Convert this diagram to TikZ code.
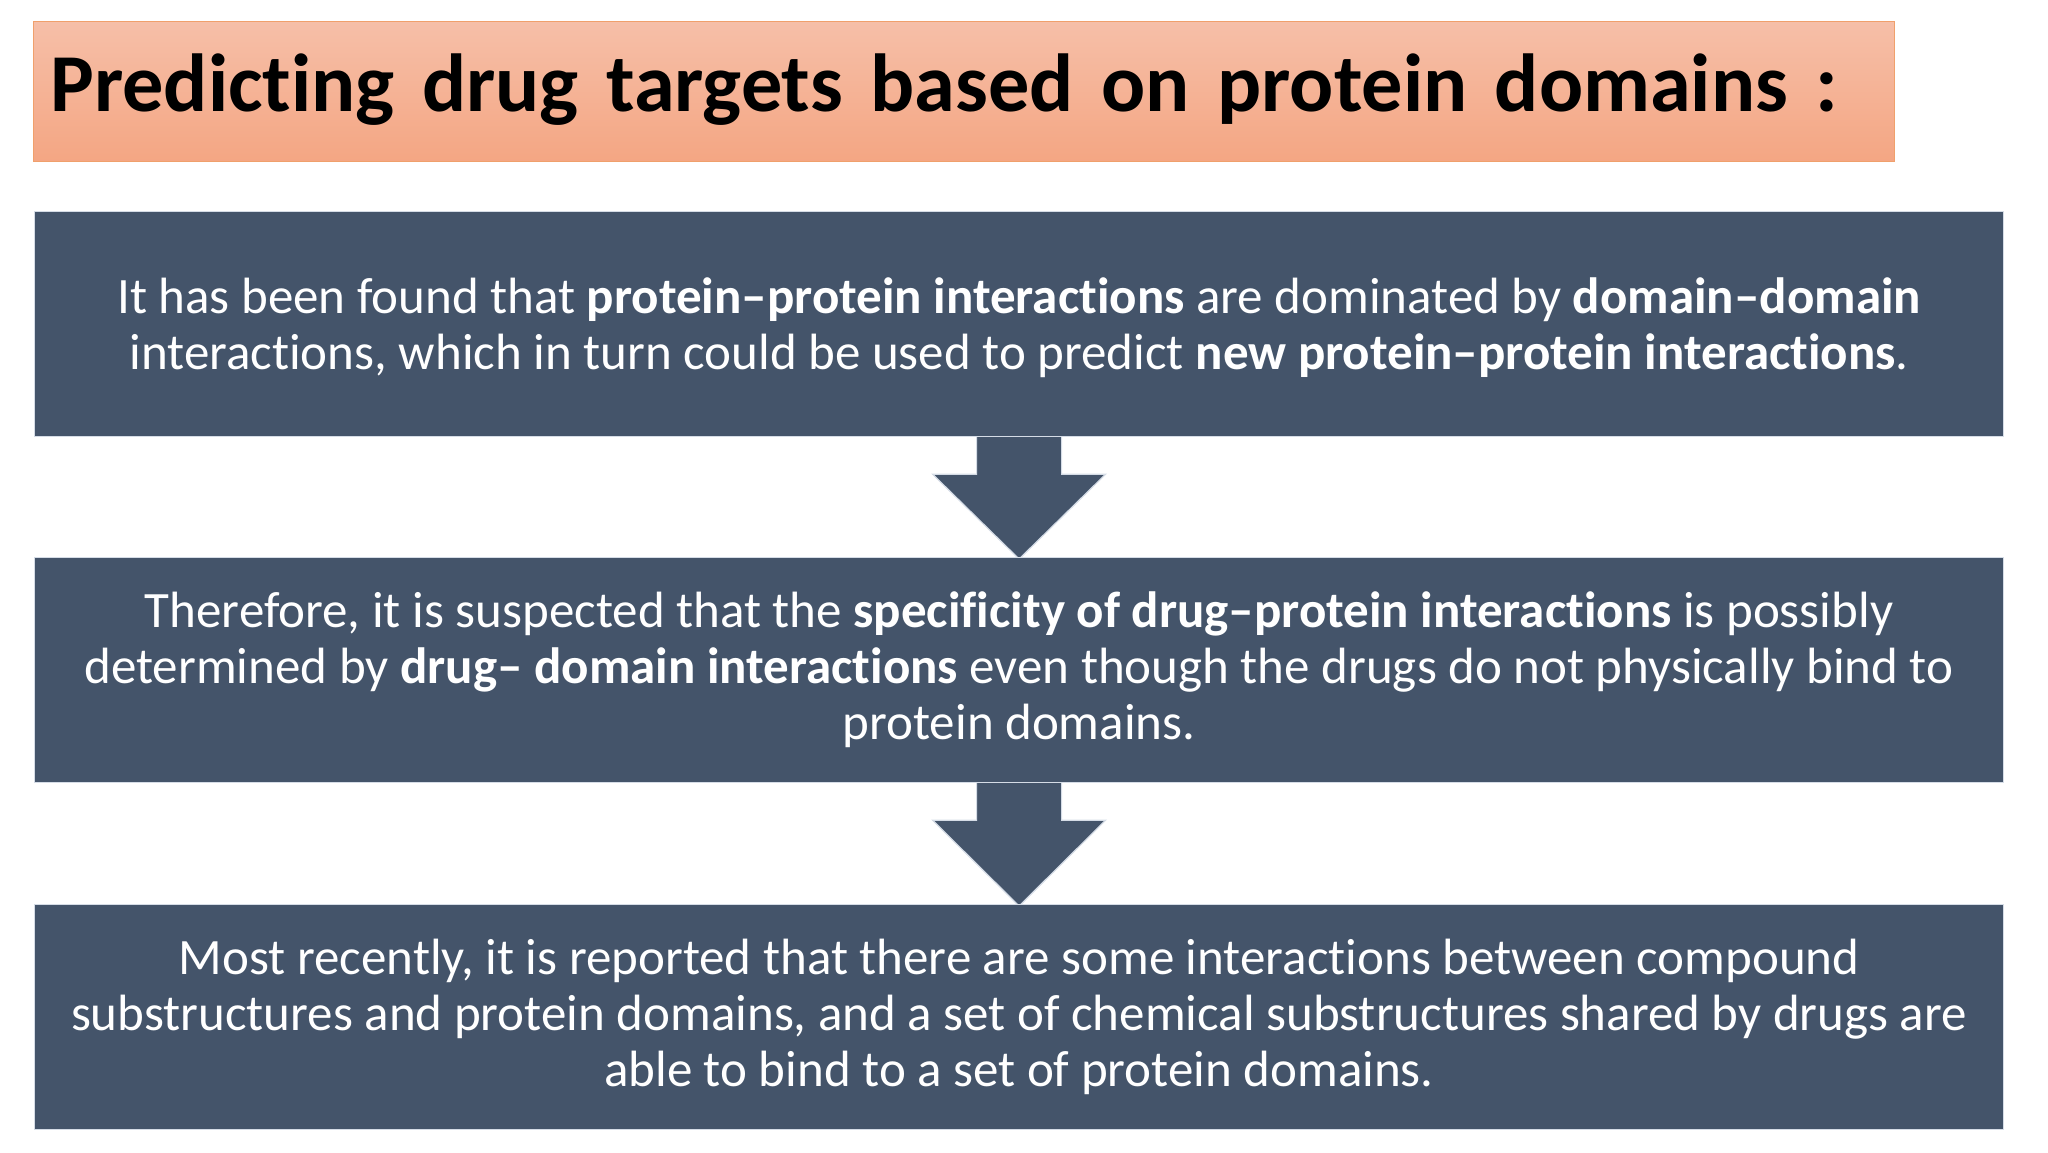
\documentclass[tikz,border=0pt]{standalone}
\usepackage{fontspec}
\setmainfont{Carlito}[Ligatures={NoCommon}]
\usetikzlibrary{calc,backgrounds}
\definecolor{boxblue}{HTML}{44546A}
\definecolor{boxedge}{HTML}{D5DCE6}
\definecolor{titletop}{HTML}{F6BFA8}
\definecolor{titlebot}{HTML}{F4A683}
\definecolor{titleedge}{HTML}{F0A06C}
\tikzset{
  bluebox/.style={fill=boxblue, draw=boxedge, line width=1.2pt, anchor=north west,
    minimum width=1969pt, minimum height=225pt, inner sep=0pt, text=white, align=center,
    font=\fontsize{51}{56}\selectfont},
  titlebox/.style={top color=titletop, bottom color=titlebot, draw=titleedge, line width=1pt,
    anchor=north west, minimum width=1861pt, minimum height=140pt, inner xsep=17pt, inner ysep=0pt,
    text width=1827pt, align=left, font=\fontsize{82.3}{90}\selectfont\bfseries},
  blockarrow/.style={fill=boxblue, draw=boxedge, line width=1.2pt, line join=miter}
}
\begin{document}
\begin{tikzpicture}[x=1pt,y=-1pt]
\useasboundingbox (0,0) rectangle (2048,1152);
\node[titlebox] (title) at (33,21) {\vspace*{4pt}Predicting drug targets based on protein domains :};
\node[bluebox] (b1) at (34,211) {\rule{0pt}{6pt}\\[-19pt]It has been found that \textbf{protein–protein interactions} are dominated by \textbf{domain–domain}\\interactions, which in turn could be used to predict \textbf{new protein–protein interactions}.};
\node[bluebox] (b2) at (34,557) {Therefore, it is suspected that the \textbf{specificity of drug–protein interactions} is possibly\\determined by \textbf{drug– domain interactions} even though the drugs do not physically bind to\\protein domains.};
\node[bluebox] (b3) at (34,904) {Most recently, it is reported that there are some interactions between compound\\substructures and protein domains, and a set of chemical substructures shared by drugs are\\able to bind to a set of protein domains.};
\begin{scope}[on background layer]
\draw[blockarrow] ($(b1.south)+(-42.5,-2)$) -- ($(b1.south)+(-42.5,37)$) -- ($(b1.south)+(-86.5,37)$)
  -- ($(b2.north)+(0,2)$) -- ($(b1.south)+(86.5,37)$) -- ($(b1.south)+(42.5,37)$) -- ($(b1.south)+(42.5,-2)$) -- cycle;
\draw[blockarrow] ($(b2.south)+(-42.5,-2)$) -- ($(b2.south)+(-42.5,37)$) -- ($(b2.south)+(-86.5,37)$)
  -- ($(b3.north)+(0,2)$) -- ($(b2.south)+(86.5,37)$) -- ($(b2.south)+(42.5,37)$) -- ($(b2.south)+(42.5,-2)$) -- cycle;
\end{scope}
\end{tikzpicture}
\end{document}
